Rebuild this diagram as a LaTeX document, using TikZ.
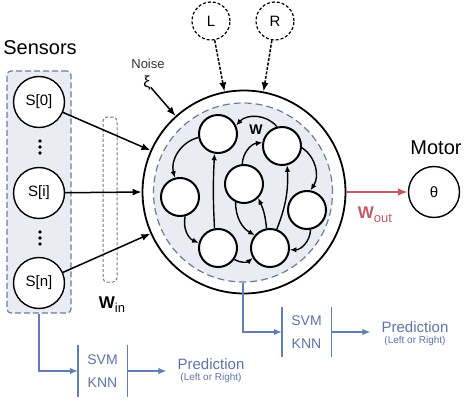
\documentclass[tikz,border=0pt]{standalone}
\usepackage{fontspec}
\setmainfont{Liberation Sans}
\usetikzlibrary{arrows.meta,calc}
\definecolor{boxfill}{HTML}{E9ECF3}
\definecolor{dashc}{HTML}{6A7C9A}
\definecolor{bluec}{HTML}{5F7DB6}
\definecolor{textblue}{HTML}{5E73A6}
\definecolor{redc}{HTML}{C45A66}
\definecolor{grayc}{HTML}{777777}
\newcommand{\fs}[1]{\fontsize{#1}{#1}\selectfont}
\begin{document}
\begin{tikzpicture}[x=1pt,y=-1pt,
  tip/.style={-{Latex[length=9pt,width=7pt]}},
  smalltip/.style={-{Latex[length=6.5pt,width=5.5pt]}},
  sensor/.style={circle,draw,line width=1.4pt,minimum size=51pt,inner sep=0pt,fill=white,font=\fs{15}},
  neuron/.style={circle,draw,line width=2pt,minimum size=38pt,inner sep=0pt,fill=white},
  cue/.style={circle,draw,dashed,dash pattern=on 3pt off 2pt,line width=1.2pt,minimum size=38pt,inner sep=0pt,font=\fs{15}},
  link/.style={line width=1.4pt,smalltip},
  inlink/.style={line width=1.5pt,tip},
  bluel/.style={draw=bluec,line width=1.4pt},
  bluetip/.style={-{Latex[length=8pt,width=6.5pt]}},
  clf/.style={minimum width=49pt,minimum height=52pt,inner sep=0pt,align=center,text=textblue,font=\fs{14}},
  pred/.style={align=center,text=textblue,inner xsep=11pt,inner ysep=0pt},
  lbl/.style={inner sep=0pt}
]
\useasboundingbox (0,0) rectangle (474,412);

% Sensors
\node[lbl,font=\fs{20}] (senslbl) at (40,48) {Sensors};
\node[draw=dashc,fill=boxfill,dashed,dash pattern=on 6pt off 3pt,line width=1.2pt,rounded corners=4pt,
      minimum width=64pt,minimum height=242pt,inner sep=0pt] (sbox) at (39,192) {};
\node[sensor] (s0) at (39,102) {S[0]};
\node[sensor] (si) at (39,193) {S[i]};
\node[sensor] (sn) at (39,283) {S[n]};
\foreach \yy in {141,147,153,232,238,244} \fill (40,\yy) circle (1.8pt);

% W_in
\node[draw=grayc,dashed,dash pattern=on 3pt off 2pt,line width=1pt,rounded corners=4pt,
      minimum width=14pt,minimum height=165pt,inner sep=0pt] (win) at (110,199.5) {};
\node[lbl] (winlbl) at (112,305) {{\fs{17}\bfseries W}\raisebox{-4pt}{\fs{13}in}};

% Reservoir
\node[circle,draw,line width=1.8pt,minimum size=203pt,inner sep=0pt] (res) at (244,192) {};
\node[circle,draw=dashc,fill=boxfill,dashed,dash pattern=on 7pt off 4pt,line width=1.2pt,minimum size=179pt,inner sep=0pt] (pool) at (243,192.5) {};

\node[neuron] (A) at (218,134) {};
\node[neuron] (B) at (282,146) {};
\node[neuron] (C) at (244,184) {};
\node[neuron] (D) at (180,197) {};
\node[neuron] (E) at (307,210) {};
\node[neuron] (F) at (218,248) {};
\node[neuron] (G) at (270,248) {};
\node[lbl,font=\fs{14}\bfseries] (wlbl) at (256,130) {W};

\draw[link] (B.105) to[bend right=50] (A.25);
\draw[link] (A.190) to[bend right=45] (D.105);
\draw[link] (D.-75) to[bend right=40] (F.165);
\draw[link] (F.-35) to[bend right=35] (G.-150);
\draw[link] (F.100) to[bend left=3] (A.-100);
\draw[link] (C.95) to[bend left=40] (B.170);
\draw[link] (C.-115) to[bend right=30] (G.140);
\draw[link] (G.100) to[bend right=10] (C.-45);
\draw[link] (G.70) to[bend right=12] (B.-75);
\draw[link] (B.-5) to[bend left=45] (E.80);
\draw[link] (E.-80) to[bend left=45] (G.-5);

% inputs
\draw[inlink] (s0) -- (res.156);
\draw[inlink] (si) -- (res.180);
\draw[inlink] (sn) -- (res.204);

\node[lbl,font=\fs{13},text=black!80] (noise) at (148,64) {Noise};
\node[lbl,font=\fs{16}] (xi) at (147,83) {ξ};
\draw[inlink] (xi) -- (res.132);

\node[cue] (L) at (211,21) {L};
\node[cue] (R) at (275,21) {R};
\draw[inlink,dashed,dash pattern=on 3pt off 1.5pt] (L) -- (res.101);
\draw[inlink,dashed,dash pattern=on 3pt off 1.5pt] (R) -- (res.79);

% Motor
\node[lbl,font=\fs{20}] (motlbl) at (436,148) {Motor};
\node[sensor] (theta) at (434,192) {θ};
\draw[draw=redc,line width=2.4pt,-{Latex[length=10pt,width=8pt]}] (res.0) -- (theta.west);
\node[lbl,text=redc] (woutlbl) at (375,215) {{\fs{17}\bfseries W}\raisebox{-4pt}{\fs{13}out}};

% Readout from sensors
\node[clf] (clf1) at (102.5,371) {SVM\\[9pt]KNN};
\draw[bluel] (clf1.north west) -- (clf1.south west);
\draw[bluel] (clf1.north east) -- (clf1.south east);
\node[pred] (pred1) at (211,371) {{\fs{15}Prediction}\\[-1pt]{\fs{10}(Left or Right)}};
\draw[bluel,bluetip] (sbox.south) |- (clf1.west);
\draw[bluel,bluetip] (clf1.east) -- (clf1.east -| pred1.west);

% Readout from reservoir
\node[clf,minimum height=50pt] (clf2) at (306.5,332) {SVM\\[9pt]KNN};
\draw[bluel] (clf2.north west) -- (clf2.south west);
\draw[bluel] (clf2.north east) -- (clf2.south east);
\node[pred] (pred2) at (415,334) {{\fs{15}Prediction}\\[-1pt]{\fs{10}(Left or Right)}};
\draw[bluel,bluetip] (pool.south) |- (clf2.west);
\draw[bluel,bluetip] (clf2.east) -- (clf2.east -| pred2.west);
\end{tikzpicture}
\end{document}
